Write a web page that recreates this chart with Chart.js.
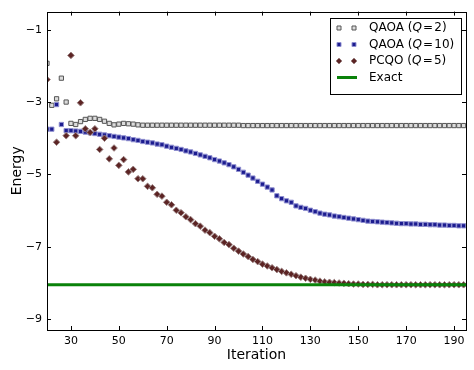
<!DOCTYPE html>
<html>
<head>
<meta charset="utf-8">
<script src="https://cdn.jsdelivr.net/npm/chart.js@4.4.1/dist/chart.umd.min.js"></script>
<style>
  html, body { margin: 0; padding: 0; background: #fff; }
</style>
</head>
<body>
<canvas id="chart" width="474" height="370"></canvas>
<script>
const iterations = [
  20, 22, 24, 26, 28, 30, 32, 34, 36, 38,
  40, 42, 44, 46, 48, 50, 52, 54, 56, 58,
  60, 62, 64, 66, 68, 70, 72, 74, 76, 78,
  80, 82, 84, 86, 88, 90, 92, 94, 96, 98,
  100, 102, 104, 106, 108, 110, 112, 114, 116, 118,
  120, 122, 124, 126, 128, 130, 132, 134, 136, 138,
  140, 142, 144, 146, 148, 150, 152, 154, 156, 158,
  160, 162, 164, 166, 168, 170, 172, 174, 176, 178,
  180, 182, 184, 186, 188, 190, 192, 194
];

const qaoa2 = [
  -1.93, -3.09, -2.91, -2.34, -3.00, -3.59, -3.62, -3.54, -3.48, -3.45,
  -3.45, -3.48, -3.53, -3.59, -3.63, -3.61, -3.59, -3.60, -3.61, -3.63,
  -3.64, -3.64, -3.64, -3.64, -3.64, -3.64, -3.64, -3.64, -3.64, -3.64,
  -3.64, -3.64, -3.64, -3.64, -3.64, -3.64, -3.64, -3.64, -3.64, -3.64,
  -3.64, -3.65, -3.65, -3.65, -3.65, -3.65, -3.65, -3.65, -3.65, -3.65,
  -3.65, -3.65, -3.65, -3.65, -3.65, -3.65, -3.65, -3.65, -3.65, -3.65,
  -3.65, -3.65, -3.65, -3.65, -3.65, -3.65, -3.65, -3.65, -3.65, -3.65,
  -3.65, -3.65, -3.65, -3.65, -3.65, -3.65, -3.65, -3.65, -3.65, -3.65,
  -3.65, -3.65, -3.65, -3.65, -3.65, -3.65, -3.65, -3.65
];

const qaoa10 = [
  -3.75, -3.75, -3.07, -3.62, -3.79, -3.79, -3.80, -3.81, -3.83, -3.85,
  -3.87, -3.89, -3.91, -3.93, -3.95, -3.97, -3.99, -4.01, -4.04, -4.06,
  -4.09, -4.11, -4.13, -4.16, -4.18, -4.22, -4.25, -4.28, -4.31, -4.35,
  -4.38, -4.42, -4.46, -4.50, -4.54, -4.59, -4.63, -4.68, -4.73, -4.79,
  -4.86, -4.94, -5.02, -5.10, -5.19, -5.27, -5.35, -5.43, -5.59, -5.67,
  -5.73, -5.77, -5.87, -5.91, -5.94, -5.99, -6.03, -6.07, -6.10, -6.12,
  -6.15, -6.17, -6.19, -6.21, -6.23, -6.25, -6.27, -6.29, -6.30, -6.31,
  -6.32, -6.33, -6.34, -6.35, -6.36, -6.36, -6.37, -6.37, -6.38, -6.38,
  -6.39, -6.39, -6.40, -6.40, -6.41, -6.41, -6.42, -6.42
];

// 22 and 26 fall above the top of the axis
const pcqo5 = [
  -2.38, null, -4.11, null, -3.93, -1.71, -3.93, -3.02, -3.74, -3.84,
  -3.74, -4.31, -4.00, -4.57, -4.27, -4.75, -4.59, -4.93, -4.86, -5.12,
  -5.12, -5.33, -5.37, -5.55, -5.60, -5.77, -5.84, -5.99, -6.06, -6.17,
  -6.25, -6.36, -6.43, -6.54, -6.61, -6.71, -6.78, -6.88, -6.94, -7.04,
  -7.12, -7.20, -7.27, -7.35, -7.41, -7.48, -7.53, -7.58, -7.63, -7.68,
  -7.72, -7.76, -7.80, -7.84, -7.87, -7.90, -7.92, -7.95, -7.97, -7.98,
  -7.99, -8.00, -8.01, -8.02, -8.03, -8.03, -8.04, -8.04, -8.04, -8.05,
  -8.05, -8.05, -8.05, -8.05, -8.05, -8.05, -8.05, -8.05, -8.05, -8.05,
  -8.05, -8.05, -8.05, -8.05, -8.05, -8.05, -8.05, -8.05
];

const exactX = [20, 195];
const exactY = [-8.05, -8.05];

const xTicks = [30, 50, 70, 90, 110, 130, 150, 170, 190];
const yTicks = [-9, -7, -5, -3, -1];

// legend text, [text, italic]
const legendParts = [
  [["QAOA (", false], ["Q", true], ["\u200a=\u200a2)", false]],
  [["QAOA (", false], ["Q", true], ["\u200a=\u200a10)", false]],
  [["PCQO (", false], ["Q", true], ["\u200a=\u200a5)", false]],
  [["Exact", false]]
];

const FONT = "DejaVu Sans";

function points(ys) {
  return iterations.map((x, i) => ({ x: x, y: ys[i] }));
}

function minusLabel(v) {
  return v < 0 ? "\u2212" + Math.abs(v) : String(v);
}

const frameTicks = {
  id: "frameTicks",
  afterDatasetsDraw(chart) {
    const { ctx, chartArea: a, scales } = chart;
    ctx.save();
    ctx.strokeStyle = "#000";
    ctx.lineWidth = 1;
    ctx.beginPath();
    xTicks.forEach(v => {
      const px = Math.round(scales.x.getPixelForValue(v)) + 0.5;
      ctx.moveTo(px, a.bottom); ctx.lineTo(px, a.bottom - 4);
      ctx.moveTo(px, a.top); ctx.lineTo(px, a.top + 4);
    });
    yTicks.forEach(v => {
      const py = Math.round(scales.y.getPixelForValue(v)) + 0.5;
      ctx.moveTo(a.left, py); ctx.lineTo(a.left + 4, py);
      ctx.moveTo(a.right, py); ctx.lineTo(a.right - 4, py);
    });
    ctx.stroke();
    ctx.strokeRect(Math.round(a.left) + 0.5, Math.round(a.top) + 0.5,
      Math.round(a.right - a.left), Math.round(a.bottom - a.top));
    ctx.restore();
  }
};

const legendBox = {
  id: "legendBox",
  afterDraw(chart) {
    const { ctx, chartArea: a } = chart;
    const w = 131, h = 76;
    const x0 = Math.round(a.right - 5 - w), y0 = Math.round(a.top + 6);
    ctx.save();
    ctx.fillStyle = "#fff";
    ctx.fillRect(x0, y0, w, h);
    ctx.strokeStyle = "#000";
    ctx.lineWidth = 1;
    ctx.strokeRect(x0 + 0.5, y0 + 0.5, w, h);

    chart.data.datasets.forEach((ds, i) => {
      const y = y0 + 10 + i * 16.5;
      if (ds.showLine) {
        ctx.strokeStyle = ds.borderColor;
        ctx.lineWidth = ds.borderWidth;
        ctx.beginPath();
        ctx.moveTo(x0 + 7, y); ctx.lineTo(x0 + 27, y);
        ctx.stroke();
      } else {
        [x0 + 9, x0 + 24].forEach(mx => {
          ctx.fillStyle = ds.backgroundColor;
          ctx.strokeStyle = ds.borderColor;
          ctx.lineWidth = 1;
          ctx.beginPath();
          if (ds.pointStyle === "rectRot") {
            const r = 3;
            ctx.moveTo(mx, y - r); ctx.lineTo(mx + r, y);
            ctx.lineTo(mx, y + r); ctx.lineTo(mx - r, y);
            ctx.closePath();
          } else {
            ctx.rect(mx - 2, y - 2, 4, 4);
          }
          ctx.fill();
          ctx.stroke();
        });
      }
      let tx = x0 + 39;
      ctx.fillStyle = "#000";
      ctx.textBaseline = "middle";
      legendParts[i].forEach(([t, it]) => {
        ctx.font = (it ? "italic " : "") + "12px '" + FONT + "'";
        ctx.fillText(t, tx, y);
        tx += ctx.measureText(t).width;
      });
    });
    ctx.restore();
  }
};

Chart.defaults.font.family = FONT;
Chart.defaults.color = "#000";

new Chart(document.getElementById("chart"), {
  type: "scatter",
  data: {
    datasets: [
      {
        label: "QAOA (Q = 2)",
        data: points(qaoa2),
        pointStyle: "rect",
        pointRadius: 3,
        backgroundColor: "#dcdcdc",
        borderColor: "#555555",
        borderWidth: 1,
        showLine: false,
        order: 4
      },
      {
        label: "QAOA (Q = 10)",
        data: points(qaoa10),
        pointStyle: "rect",
        pointRadius: 3,
        backgroundColor: "#1c1c8f",
        borderColor: "#8f8fd0",
        borderWidth: 1,
        showLine: false,
        order: 3
      },
      {
        label: "PCQO (Q = 5)",
        data: points(pcqo5),
        pointStyle: "rectRot",
        pointRadius: 3.3,
        backgroundColor: "#5c2424",
        borderColor: "#9a8080",
        borderWidth: 1,
        showLine: false,
        order: 2
      },
      {
        label: "Exact",
        data: exactX.map((x, i) => ({ x: x, y: exactY[i] })),
        showLine: true,
        borderColor: "#0a820a",
        borderWidth: 3,
        pointRadius: 0,
        order: 1
      }
    ]
  },
  options: {
    responsive: false,
    animation: false,
    devicePixelRatio: 1,
    layout: { padding: { top: 7, right: 8, bottom: 0, left: 0 } },
    plugins: {
      legend: { display: false },
      tooltip: { enabled: false }
    },
    scales: {
      x: {
        type: "linear",
        min: 20,
        max: 195,
        afterBuildTicks: s => { s.ticks = xTicks.map(v => ({ value: v })); },
        afterFit: s => { s.height = 40; },
        grid: { display: false, drawTicks: false, tickLength: 0 },
        border: { display: false },
        ticks: {
          font: { size: 11 },
          padding: 5,
          maxRotation: 0,
          autoSkip: false,
          callback: v => minusLabel(v)
        },
        title: {
          display: true,
          text: "Iteration",
          font: { size: 14 },
          padding: { top: 0, bottom: 6 }
        }
      },
      y: {
        type: "linear",
        min: -9.3,
        max: -0.5,
        afterBuildTicks: s => { s.ticks = yTicks.map(v => ({ value: v })); },
        afterFit: s => { s.width = 47; },
        grid: { display: false, drawTicks: false, tickLength: 0 },
        border: { display: false },
        ticks: {
          font: { size: 11 },
          padding: 5,
          autoSkip: false,
          callback: v => minusLabel(v)
        },
        title: {
          display: true,
          text: "Energy",
          font: { size: 14 },
          padding: { top: 9, bottom: 0 }
        }
      }
    }
  },
  plugins: [frameTicks, legendBox]
});
</script>
</body>
</html>
